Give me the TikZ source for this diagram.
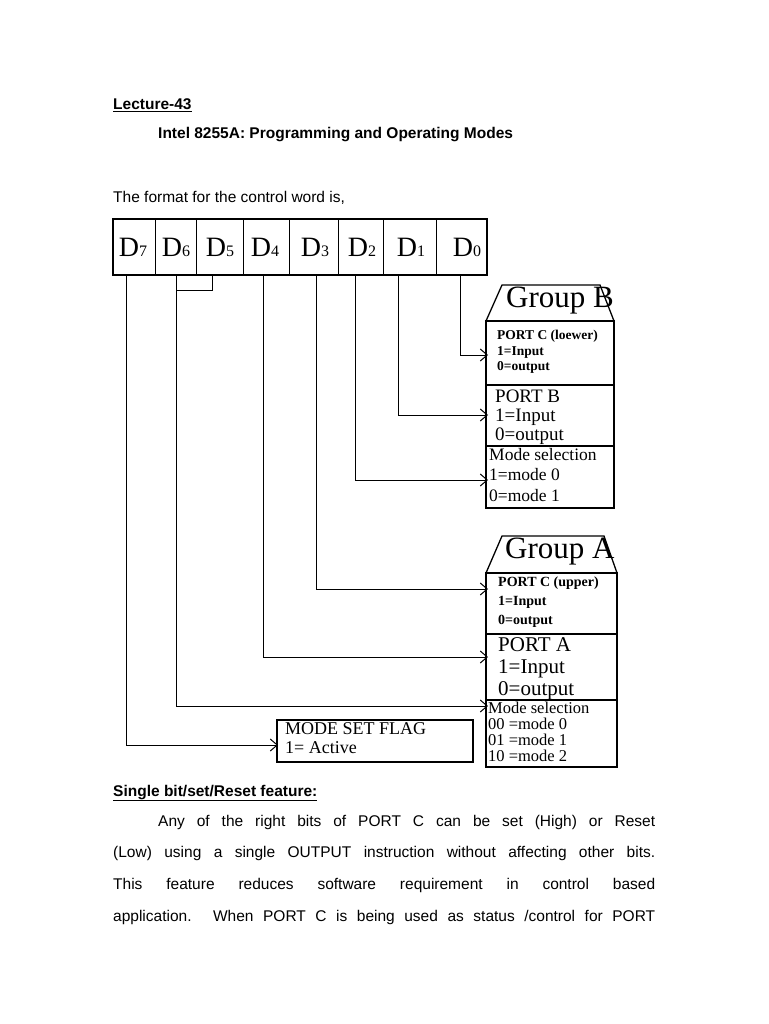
\documentclass[tikz,border=0pt]{standalone}
\usepackage{fontspec}
\setmainfont{Liberation Sans}
\newfontfamily\serif{Liberation Serif}
\usetikzlibrary{arrows.meta}
\begin{document}
\begin{tikzpicture}[x=1pt,y=-1pt,
  ln/.style={line width=1pt},
  arr/.style={line width=1pt,-{Straight Barb[length=7pt,width=12pt]}},
  bx/.style={draw,line width=1.3pt},
  body/.style={anchor=base west,inner sep=0,font=\fontsize{15.5}{18}\selectfont},
  bt/.style={anchor=north west,inner sep=0,align=left,font=\serif\fontsize{#1}{#1}\selectfont},
  dl/.style={inner sep=0,font=\serif\fontsize{28}{28}\selectfont}]
\useasboundingbox (0,0) rectangle (768,1024);
% header text
\node[body,font=\bfseries\fontsize{15.5}{18}\selectfont] (lec) at (113,110) {\underline{Lecture-43}};
\node[body,font=\bfseries\fontsize{15.5}{18}\selectfont] (ttl) at (158,139) {Intel 8255A: Programming and Operating Modes};
\node[body] (fmt) at (113,203) {The format for the control word is,};
% register
\draw[bx] (113,219) rectangle (487,275);
\foreach \x in {155,196,243,289,338,383,436} \draw[line width=1pt] (\x,219) -- (\x,275);
\foreach \x/\n in {133/7,176/6,220/5,265/4,315/3,362/2,411/1,467/0}
  \node[dl] (d\n) at (\x,247) {D\fontsize{16}{16}\selectfont\n};
% group B
\draw[bx] (486,321) -- (502,285) -- (600,285) -- (614,321);
\node[bt=31] (gb) at (506,287) {Group B};
\draw[bx] (486,321) rectangle (614,385);
\draw[bx] (486,385) rectangle (614,446);
\draw[bx] (486,446) rectangle (614,508);
\node[bt=13,font=\serif\bfseries\fontsize{13.5}{15.5}\selectfont] (pcl) at (497,330) {PORT C (loewer)\\1=Input\\0=output};
\node[bt=19,font=\serif\fontsize{19}{19}\selectfont] (pb) at (495,390) {PORT B\\1=Input\\0=output};
\node[bt=17,font=\serif\fontsize{17.5}{20.5}\selectfont] (msb) at (489,448) {Mode selection\\1=mode 0\\0=mode 1};
% group A
\draw[bx] (486,573) -- (502,536) -- (604,536) -- (617,573);
\node[bt=31] (ga) at (505,538) {Group A};
\draw[bx] (486,573) rectangle (617,634);
\draw[bx] (486,634) rectangle (617,700);
\draw[bx] (486,700) rectangle (617,767);
\node[bt=14,font=\serif\bfseries\fontsize{14}{19}\selectfont] (pcu) at (498,577) {PORT C (upper)\\1=Input\\0=output};
\node[bt=21,font=\serif\fontsize{21}{22}\selectfont] (pa) at (498,637) {PORT A\\1=Input\\0=output};
\node[bt=16,font=\serif\fontsize{16.5}{16}\selectfont] (msa) at (488,702) {Mode selection\\00 =mode 0\\01 =mode 1\\10 =mode 2};
% mode set flag
\draw[bx] (277,720) rectangle (473,762);
\node[bt=18,font=\serif\fontsize{18}{19}\selectfont] (msf) at (285,722) {MODE SET FLAG\\1= Active};
% connectors
\coordinate (t7) at (126,275); \coordinate (e7) at (278,745);
\coordinate (t6) at (176,275); \coordinate (e6) at (488,706);
\coordinate (t4) at (263,275); \coordinate (e4) at (488,657);
\coordinate (t3) at (316,275); \coordinate (e3) at (488,589);
\coordinate (t2) at (355,275); \coordinate (e2) at (488,480);
\coordinate (t1) at (398,275); \coordinate (e1) at (488,415);
\coordinate (t0) at (460,275); \coordinate (e0) at (488,355);
\foreach \i in {7,6,4,3,2,1,0} \draw[arr] (t\i) |- (e\i);
\draw[ln] (212,275) -- (212,290) -- (176,290);
% lower text
\node[body,font=\bfseries\fontsize{15.5}{18}\selectfont] (sb) at (113,796) {\underline{Single bit/set/Reset feature:}};
\node[body] (p1) at (158,826) {\makebox[497pt][s]{Any of the right bits of PORT C can be set (High) or Reset}};
\node[body] (p2) at (113,857) {\makebox[542pt][s]{(Low) using a single OUTPUT instruction without affecting other bits.}};
\node[body] (p3) at (113,889) {\makebox[542pt][s]{This feature reduces software requirement in control based}};
\node[body] (p4) at (113,921) {\makebox[542pt][s]{application. When PORT C is being used as status /control for PORT}};
\end{tikzpicture}
\end{document}
